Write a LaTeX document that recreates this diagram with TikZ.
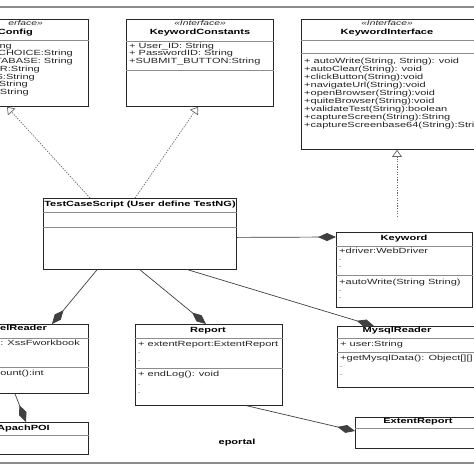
\documentclass[tikz,border=0pt]{standalone}
\usepackage{fontspec}
\setmainfont{Liberation Sans}
\usepackage{graphicx}
\usetikzlibrary{arrows.meta}
\newcommand{\hs}[1]{\scalebox{1.47}[1]{#1}}
\begin{document}
\begin{tikzpicture}[x=1pt,y=-1pt,
  box/.style={draw=black!85, line width=0.8pt, fill=white, inner sep=0pt, anchor=north west},
  sepl/.style={draw=black!45, line width=0.6pt},
  frameline/.style={draw=black!45, line width=1.3pt},
  t/.style={font=\fontsize{7.5}{8}\selectfont, inner sep=0pt, text height=5.4pt, text depth=1.5pt, text=black!85},
  tb/.style={t, font=\fontsize{7.5}{8}\selectfont\bfseries, text=black},
  ti/.style={t, font=\fontsize{7}{8}\selectfont\itshape},
  comp/.style={draw=black!75, line width=0.7pt, -{Diamond[length=18pt,width=8pt]}},
  real/.style={draw=black!60, line width=0.7pt, dash pattern=on 1.3pt off 1.3pt, -{Triangle[open,length=7pt,width=10pt,fill=white]}}]
\useasboundingbox (0,0) rectangle (474,474);
\clip (0,0) rectangle (474,474);
\fill[white] (0,0) rectangle (474,474);
\draw[frameline] (0,7) -- (474,7);
\draw[frameline] (0,463) -- (474,463);

% boxes
\node[box, minimum width=108pt, minimum height=87pt] (cfg) at (-20,19) {};
\node[box, minimum width=147pt, minimum height=87pt] (kc) at (126,19) {};
\node[box, minimum width=189pt, minimum height=130pt] (ki) at (301,19) {};
\node[box, minimum width=193pt, minimum height=71pt] (tcs) at (43,198) {};
\node[box, minimum width=136pt, minimum height=75pt] (kw) at (336,232) {};
\node[box, minimum width=108pt, minimum height=69pt] (er) at (-20,324) {};
\node[box, minimum width=147pt, minimum height=81pt] (rp) at (135,324) {};
\node[box, minimum width=153pt, minimum height=61pt] (my) at (337,326) {};
\node[box, minimum width=108pt, minimum height=32pt] (ap) at (-20,422) {};
\node[box, minimum width=135pt, minimum height=31pt] (ex) at (355,417) {};

% separators
\foreach \b/\yy in {cfg/40, kc/41, kc/70, ki/40, ki/53, tcs/212, tcs/227, kw/246, kw/275, er/338, er/367, rp/338, rp/368, my/338, my/352, ap/435, ex/428}
  \draw[sepl] (\b.west |- 0,\yy) -- (\b.east |- 0,\yy);

% Config (cut off)
\node[ti, anchor=east] (cfgst) at (43,24) {\hs{erface»}};
\node[tb, anchor=east] (cfgt) at (33,33) {\hs{Config}};
\node[t, anchor=east] (cfg1) at (12,47) {\hs{ring}};
\node[t, anchor=east] (cfg2) at (73,54) {\hs{CHOICE:String}};
\node[t, anchor=east] (cfg3) at (73,62) {\hs{TABASE: String}};
\node[t, anchor=east] (cfg4) at (40,70) {\hs{R:String}};
\node[t, anchor=east] (cfg5) at (35,78) {\hs{S:String}};
\node[t, anchor=east] (cfg6) at (28,85) {\hs{String}};
\node[t, anchor=east] (cfg7) at (29,93) {\hs{String}};

% KeywordConstants
\node[ti] (kcst) at (200,24) {\hs{«Interface»}};
\node[tb] (kct) at (200,33) {\hs{KeywordConstants}};
\node[t, anchor=west] (kc1) at (129,47) {\hs{+ User\_ID: String}};
\node[t, anchor=west] (kc2) at (129,54) {\hs{+ PasswordID: String}};
\node[t, anchor=west] (kc3) at (129,62) {\hs{+SUBMIT\_BUTTON:String}};

% KeywordInterface
\node[ti] (kist) at (387,24) {\hs{«Interface»}};
\node[tb] (kit) at (387,33) {\hs{KeywordInterface}};
\node[t, anchor=west] (ki1) at (304,62) {\hs{+ autoWrite(String, String): void}};
\node[t, anchor=west] (ki2) at (304,70) {\hs{+autoClear(String): void}};
\node[t, anchor=west] (ki3) at (304,78) {\hs{+clickButton(String):void}};
\node[t, anchor=west] (ki4) at (304,86) {\hs{+navigateUrl(String):void}};
\node[t, anchor=west] (ki5) at (304,94) {\hs{+openBrowser(String):void}};
\node[t, anchor=west] (ki6) at (304,102) {\hs{+quiteBrowser(String):void}};
\node[t, anchor=west] (ki7) at (304,110) {\hs{+validateTest(String):boolean}};
\node[t, anchor=west] (ki8) at (304,118) {\hs{+captureScreen(String):String}};
\node[t, anchor=west] (ki9) at (304,126) {\hs{+captureScreenbase64(String):String}};

% TestCaseScript
\node[tb] (tcst) at (140,205) {\hs{TestCaseScript (User define TestNG)}};

% Keyword
\node[tb] (kwt) at (404,239) {\hs{Keyword}};
\node[t, anchor=west] (kw1) at (339,252) {\hs{+driver:WebDriver}};
\node[t, anchor=west] (kw2) at (339,259) {.};
\node[t, anchor=west] (kw3) at (339,266) {.};
\node[t, anchor=west] (kw4) at (339,283) {\hs{+autoWrite(String String)}};
\node[t, anchor=west] (kw5) at (339,290) {.};
\node[t, anchor=west] (kw6) at (339,297) {.};

% ExcelReader (cut off)
\node[tb, anchor=east] (ert) at (47,329) {\hs{elReader}};
\node[t, anchor=east] (er1) at (80,344) {\hs{: XssFworkbook}};
\node[t, anchor=east] (er2) at (44,374) {\hs{ount():int}};

% Report
\node[tb] (rpt) at (208,331) {\hs{Report}};
\node[t, anchor=west] (rp1) at (138,345) {\hs{+ extentReport:ExtentReport}};
\node[t, anchor=west] (rp2) at (138,352) {.};
\node[t, anchor=west] (rp3) at (138,360) {.};
\node[t, anchor=west] (rp4) at (138,375) {\hs{+ endLog(): void}};
\node[t, anchor=west] (rp5) at (138,384) {.};
\node[t, anchor=west] (rp6) at (138,392) {.};

% MysqlReader
\node[tb] (myt) at (397,331) {\hs{MysqlReader}};
\node[t, anchor=west] (my1) at (340,345) {\hs{+ user:String}};
\node[t, anchor=west] (my2) at (340,359) {\hs{+getMysqlData(): Object[][]}};
\node[t, anchor=west] (my3) at (340,366) {.};
\node[t, anchor=west] (my4) at (340,374) {.};

% ApachPOI (cut off)
\node[tb, anchor=east] (apt) at (50,429) {\hs{ApachPOI}};

% ExtentReport
\node[tb] (ext) at (418,422) {\hs{ExtentReport}};

% package name
\node[tb] (pkg) at (237,443) {\hs{eportal}};

% realizations
\coordinate (kitail) at (397,217);
\draw[real] ([xshift=47pt]tcs.north west) -- ([xshift=27pt]cfg.south west);
\draw[real] ([xshift=92pt]tcs.north west) -- ([xshift=72pt]kc.south west);
\draw[real] (kitail) -- ([xshift=96pt]ki.south west);

% compositions
\draw[comp] ([yshift=-3.5pt]tcs.east) -- ([yshift=-5pt]kw.north west);
\draw[comp] ([xshift=54pt]tcs.south west) -- ([xshift=72pt]er.north west);
\draw[comp] ([xshift=97pt]tcs.south west) -- ([xshift=71pt]rp.north west);
\draw[comp] ([xshift=145pt]tcs.south west) -- ([xshift=37pt]my.north west);
\draw[comp] ([xshift=112pt]rp.south west) -- ([yshift=-14pt]ex.north west);
\draw[comp] ([xshift=35pt]er.south west) -- ([xshift=46pt]ap.north west);
\end{tikzpicture}
\end{document}
